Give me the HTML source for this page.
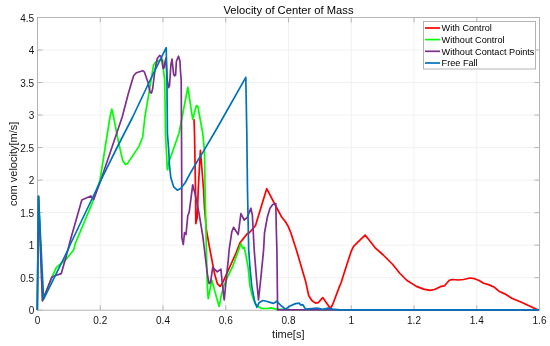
<!DOCTYPE html>
<html><head><meta charset="utf-8"><title>Velocity of Center of Mass</title>
<style>
html,body{margin:0;padding:0;background:#fff;}
svg{display:block;font-family:"Liberation Sans",Arial,sans-serif;}
.tk text{font-size:10px;fill:#151515;}
.cv polyline{fill:none;stroke-width:1.7;stroke-linejoin:round;stroke-linecap:butt;}
</style></head><body>
<svg width="550" height="346" viewBox="0 0 550 346">
<rect width="550" height="346" fill="#fff"/>
<g stroke="#f1f1f1" stroke-width="1"><line x1="100.25" y1="17.5" x2="100.25" y2="310.2"/><line x1="163.00" y1="17.5" x2="163.00" y2="310.2"/><line x1="225.75" y1="17.5" x2="225.75" y2="310.2"/><line x1="288.50" y1="17.5" x2="288.50" y2="310.2"/><line x1="351.25" y1="17.5" x2="351.25" y2="310.2"/><line x1="414.00" y1="17.5" x2="414.00" y2="310.2"/><line x1="476.75" y1="17.5" x2="476.75" y2="310.2"/><line x1="37.5" y1="277.68" x2="539.5" y2="277.68"/><line x1="37.5" y1="245.16" x2="539.5" y2="245.16"/><line x1="37.5" y1="212.63" x2="539.5" y2="212.63"/><line x1="37.5" y1="180.11" x2="539.5" y2="180.11"/><line x1="37.5" y1="147.59" x2="539.5" y2="147.59"/><line x1="37.5" y1="115.07" x2="539.5" y2="115.07"/><line x1="37.5" y1="82.54" x2="539.5" y2="82.54"/><line x1="37.5" y1="50.02" x2="539.5" y2="50.02"/></g>
<rect x="37.5" y="17.5" width="502.0" height="292.7" fill="none" stroke="#b4b4b4" stroke-width="1"/>
<g stroke="#b4b4b4" stroke-width="1"><line x1="37.50" y1="310.2" x2="37.50" y2="305.2"/><line x1="37.50" y1="17.5" x2="37.50" y2="22.5"/><line x1="100.25" y1="310.2" x2="100.25" y2="305.2"/><line x1="100.25" y1="17.5" x2="100.25" y2="22.5"/><line x1="163.00" y1="310.2" x2="163.00" y2="305.2"/><line x1="163.00" y1="17.5" x2="163.00" y2="22.5"/><line x1="225.75" y1="310.2" x2="225.75" y2="305.2"/><line x1="225.75" y1="17.5" x2="225.75" y2="22.5"/><line x1="288.50" y1="310.2" x2="288.50" y2="305.2"/><line x1="288.50" y1="17.5" x2="288.50" y2="22.5"/><line x1="351.25" y1="310.2" x2="351.25" y2="305.2"/><line x1="351.25" y1="17.5" x2="351.25" y2="22.5"/><line x1="414.00" y1="310.2" x2="414.00" y2="305.2"/><line x1="414.00" y1="17.5" x2="414.00" y2="22.5"/><line x1="476.75" y1="310.2" x2="476.75" y2="305.2"/><line x1="476.75" y1="17.5" x2="476.75" y2="22.5"/><line x1="539.50" y1="310.2" x2="539.50" y2="305.2"/><line x1="539.50" y1="17.5" x2="539.50" y2="22.5"/><line x1="37.5" y1="310.20" x2="42.5" y2="310.20"/><line x1="539.5" y1="310.20" x2="534.5" y2="310.20"/><line x1="37.5" y1="277.68" x2="42.5" y2="277.68"/><line x1="539.5" y1="277.68" x2="534.5" y2="277.68"/><line x1="37.5" y1="245.16" x2="42.5" y2="245.16"/><line x1="539.5" y1="245.16" x2="534.5" y2="245.16"/><line x1="37.5" y1="212.63" x2="42.5" y2="212.63"/><line x1="539.5" y1="212.63" x2="534.5" y2="212.63"/><line x1="37.5" y1="180.11" x2="42.5" y2="180.11"/><line x1="539.5" y1="180.11" x2="534.5" y2="180.11"/><line x1="37.5" y1="147.59" x2="42.5" y2="147.59"/><line x1="539.5" y1="147.59" x2="534.5" y2="147.59"/><line x1="37.5" y1="115.07" x2="42.5" y2="115.07"/><line x1="539.5" y1="115.07" x2="534.5" y2="115.07"/><line x1="37.5" y1="82.54" x2="42.5" y2="82.54"/><line x1="539.5" y1="82.54" x2="534.5" y2="82.54"/><line x1="37.5" y1="50.02" x2="42.5" y2="50.02"/><line x1="539.5" y1="50.02" x2="534.5" y2="50.02"/><line x1="37.5" y1="17.50" x2="42.5" y2="17.50"/><line x1="539.5" y1="17.50" x2="534.5" y2="17.50"/></g>
<g class="tk"><text x="37.50" y="323.8" text-anchor="middle">0</text><text x="100.25" y="323.8" text-anchor="middle">0.2</text><text x="163.00" y="323.8" text-anchor="middle">0.4</text><text x="225.75" y="323.8" text-anchor="middle">0.6</text><text x="288.50" y="323.8" text-anchor="middle">0.8</text><text x="351.25" y="323.8" text-anchor="middle">1</text><text x="414.00" y="323.8" text-anchor="middle">1.2</text><text x="476.75" y="323.8" text-anchor="middle">1.4</text><text x="539.50" y="323.8" text-anchor="middle">1.6</text><text x="34.2" y="314.40" text-anchor="end">0</text><text x="34.2" y="281.88" text-anchor="end">0.5</text><text x="34.2" y="249.36" text-anchor="end">1</text><text x="34.2" y="216.83" text-anchor="end">1.5</text><text x="34.2" y="184.31" text-anchor="end">2</text><text x="34.2" y="151.79" text-anchor="end">2.5</text><text x="34.2" y="119.27" text-anchor="end">3</text><text x="34.2" y="86.74" text-anchor="end">3.5</text><text x="34.2" y="54.22" text-anchor="end">4</text><text x="34.2" y="21.70" text-anchor="end">4.5</text></g>
<text x="288.5" y="13.6" text-anchor="middle" font-size="11.2" fill="#000">Velocity of Center of Mass</text>
<text x="288.3" y="337.6" text-anchor="middle" font-size="11" fill="#151515">time[s]</text>
<text transform="translate(16.9,163.9) rotate(-90)" text-anchor="middle" font-size="11" fill="#151515">com velocity[m/s]</text>
<g class="cv">
<polyline stroke="#ff0000" points="194,119.1 194.5,133 195.5,190 195.8,223.6 197.3,217.3 198.2,190 200.4,150.3 203.6,190 204.5,208.2 206.4,230 210,250 214.5,273.6 217.3,283.6 220,286.4 222.7,282.7 230.9,264.5 236,253 240,242.7 247.3,233.6 249.1,233 255.5,225.5 266.7,188.7 275.5,205.5 281.8,217.3 285.5,221.8 288.2,226.4 290.9,233 296.4,250 305.5,280.9 308.7,295.5 311.8,300.5 315.5,303.1 318.2,302.7 322.7,297.6 330.4,308.5 332.7,304.5 339.5,286.4 341,283 346.4,266 351.3,251 353.6,246.4 357.3,242.7 365.1,235.1 369.1,240 375.5,248.2 382.7,254.5 392.7,264.5 400,273.5 407,280.5 416.4,286.4 423.6,289.1 430,290.4 434.5,289.5 440.9,286.4 444.5,285.8 449.1,280.5 451.8,279.5 458.2,280 463.6,279.5 470,278 474.5,278.7 479.1,280.5 483.6,283.3 489.1,284.9 494.5,287.3 499.8,291.8 504.2,293.6 511.8,298.2 522,302.5 537,309.6"/>
<polyline stroke="#00ff00" points="37.3,310 38.5,196.4 42.7,300.5 51.8,277.3 56.4,267.3 66.4,259 73.6,250 75.5,243 92.7,201.8 100,180 110,117 111.8,109.1 113.6,117 118.2,140.6 122.7,160.6 125.5,164.6 127.6,163.4 139.1,146.1 142.7,137 144.9,117 149.1,92.2 153.6,64.9 155.5,62.2 159,60.5 162.7,60 163.4,69.3 164.7,80 165.3,117 165.5,133 167.3,169.4 167.8,169.7 168.2,164 179.1,133 187.8,87.3 192.7,119.1 196.4,105.5 197.8,106.4 202.7,133 204.5,151.2 205.1,190 206.4,250 207.3,286.4 208.2,298.7 211.8,280 215.5,293.6 219.1,306.4 220.9,297.3 223.6,286.4 228.2,275.5 232.7,266.4 237.3,253.6 240.9,243.6 242.7,248.2 244,247.3 245.5,253 248.2,268.2 250,286.4 252.7,297.3 255.5,304.5 258.2,306.4 261.8,308.5 267.3,308.5 270.9,307.8 276.4,309.1 290,309.6 539,309.9"/>
<polyline stroke="#7e2f8e" points="37.3,310 38.5,196.4 42.4,301 51.8,277.3 55.5,275.5 61.3,273.6 66.4,255.5 70.9,238.2 81.8,200 90.9,196 93.6,199.6 100.9,180 122.2,117 128.2,94 133.6,75.8 136.4,72.7 142.7,70.7 144.5,72.2 148.2,83.1 150,92.2 151.5,93.1 152.7,88.5 154.9,70.4 157.3,58.5 159.6,55.5 161.3,56.7 163.1,68.5 164.2,67.6 164.9,62.2 166,58 167.2,80 168.5,87.6 169.5,85.8 170.9,64.9 172,59.1 173.6,74 174.5,75.8 175.6,75.1 176.4,61.3 178.5,56.2 180,61.3 180.4,70 181.2,80 181.5,133 181.8,196 181.8,237.3 183.3,244.5 184.5,232.7 186,234.5 187.8,215.5 189.1,212.7 190.9,199.1 192.7,184.8 195.5,195.5 199.1,213.6 202.7,235.5 204.5,250 207.3,273.6 209.1,283.6 210.5,282.7 212.7,267.3 217.3,271.8 220.9,269.1 222.2,282.7 224.2,300 226.4,277.3 228.2,260.9 229.1,250 231.8,231.8 233.6,227.3 238.2,234.5 240.9,213.6 244.2,220 247.3,217.3 250.9,208.2 252.4,215.5 254.2,250 256.4,277.3 258.5,300 260.9,277.3 263.6,250 264.5,233 267.3,217.3 270,208.2 272.7,204.5 275.8,203.6 276.4,233 276.9,250 277.6,309.9 539,309.9"/>
<polyline stroke="#0072bd" points="37.3,310 38.5,196.4 43.6,299.1 68.2,249.5 70,245 100.3,181.5 117.3,147 132.7,117 150.2,80 166.2,47.7 166.9,80 167.3,117 167.4,133 168.7,150 169.4,164.5 170.8,177.5 173.7,186.9 177.3,190.2 181,188.3 185.3,182.5 191.1,171.7 197.6,160.8 203.4,151.4 216.7,128.8 245.8,77.3 246.8,133 247.5,190 248.7,250 250,268.2 251.8,286.4 254.5,300.9 256.9,307.3 259.1,302.7 262.7,300.5 267.3,301.5 270,302.4 273.6,303.4 276.7,301.2 280.9,305.5 285.5,309.1 290,306 295.5,303.6 299.1,303.1 300.9,305.1 302.7,304.5 305.5,309.1 311.8,308.5 317.3,308.2 322.7,309.3 328.2,308.2 332.7,309.1 340,309.9 539,309.9"/>
</g>
<rect x="423.5" y="21.5" width="112" height="47.5" fill="#fff" stroke="#b4b4b4" stroke-width="1"/>
<g stroke-width="1.7">
<line x1="425" y1="28" x2="440" y2="28" stroke="#ff0000"/>
<line x1="425" y1="39.6" x2="440" y2="39.6" stroke="#00ff00"/>
<line x1="425" y1="51.3" x2="440" y2="51.3" stroke="#7e2f8e"/>
<line x1="425" y1="63" x2="440" y2="63" stroke="#0072bd"/>
</g>
<g font-size="9.15" fill="#000">
<text x="441.6" y="31.2">With Control</text>
<text x="441.6" y="42.8">Without Control</text>
<text x="441.6" y="54.5">Without Contact Points</text>
<text x="441.6" y="66.2">Free Fall</text>
</g>
</svg>
</body></html>
